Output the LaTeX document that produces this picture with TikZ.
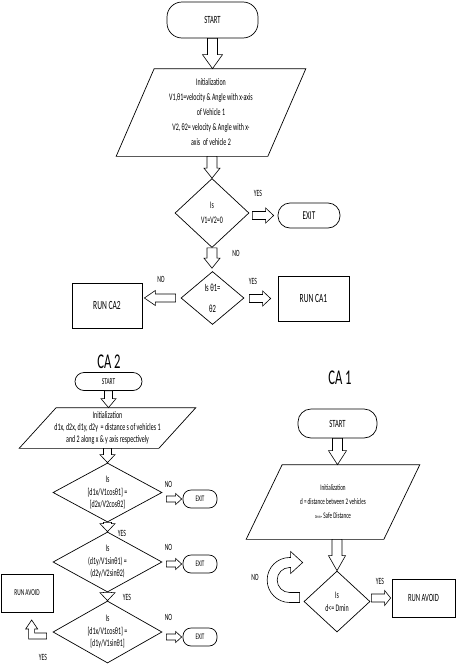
\documentclass[tikz,border=0pt]{standalone}
\usepackage{fontspec}
\setmainfont{Carlito}[FakeStretch=0.6]
\usetikzlibrary{shapes.geometric, calc}

%% frecce a blocco: da, a, mezzo fusto, mezza punta, lunghezza punta
\newcommand{\downblock}[5]{%
  \draw[blockarrow] let \p1=(#1), \p2=(#2) in
    (\x1-#3,\y1) -- (\x1-#3,\y2+#5) -- (\x1-#4,\y2+#5) -- (\x1,\y2)
    -- (\x1+#4,\y2+#5) -- (\x1+#3,\y2+#5) -- (\x1+#3,\y1) -- cycle;}
\newcommand{\rightblock}[5]{%
  \draw[blockarrow] let \p1=(#1), \p2=(#2) in
    (\x1,\y2-#3) -- (\x2-#5,\y2-#3) -- (\x2-#5,\y2-#4) -- (\x2,\y2)
    -- (\x2-#5,\y2+#4) -- (\x2-#5,\y2+#3) -- (\x1,\y2+#3) -- cycle;}
\newcommand{\leftblock}[5]{%
  \draw[blockarrow] let \p1=(#1), \p2=(#2) in
    (\x1,\y2-#3) -- (\x2+#5,\y2-#3) -- (\x2+#5,\y2-#4) -- (\x2,\y2)
    -- (\x2+#5,\y2+#4) -- (\x2+#5,\y2+#3) -- (\x1,\y2+#3) -- cycle;}
%% parallelogramma attorno a un nodo: nodo, mezza inclinazione
\newcommand{\parallelo}[2]{%
  \draw ($(#1.south west)+(-#2,0)$) -- ($(#1.north west)+(#2,0)$)
    -- ($(#1.north east)+(#2,0)$) -- ($(#1.south east)+(-#2,0)$) -- cycle;}

\begin{document}
\begin{tikzpicture}[x=1pt, y=-1pt, line width=0.7pt,
  term/.style={draw, rectangle, rounded corners=#1, inner sep=0pt},
  term/.default=12pt,
  io/.style={rectangle, inner sep=0pt, align=center},
  test/.style={draw, diamond, inner sep=0pt, align=center},
  proc/.style={draw, rectangle, inner sep=0pt},
  lbl/.style={inner sep=0pt, font=\fontsize{9.5}{11}\selectfont},
  title/.style={inner sep=0pt, font=\fontsize{21}{24}\selectfont},
  blockarrow/.style={draw, fill=white, line width=0.6pt}]

\useasboundingbox (0,0) rectangle (456,664);

%% === FLUSSO PRINCIPALE ===
\node[term=15pt, minimum width=91pt, minimum height=36pt, font=\fontsize{11}{13}\selectfont]
  (start) at (212.5,20) {START};
\node[io, minimum width=151pt, minimum height=87pt, font=\fontsize{10}{15}\selectfont]
  (init) at (211,112.5)
  {Initialization\\V1,θ1=velocity \& Angle with x-axis\\of Vehicle 1\\
   V2, θ2= velocity \& Angle with x-\\axis \ of vehicle 2};
\parallelo{init}{19}
\node[test, aspect=1.07, minimum width=74pt, minimum height=69pt,
  font=\fontsize{10}{15}\selectfont] (isstop) at (212,213) {Is\\V1=V2=0};
\node[term=12pt, minimum width=62pt, minimum height=25pt, font=\fontsize{12}{14}\selectfont]
  (exit) at (309,215.5) {EXIT};
\node[test, aspect=1.19, minimum width=63pt, minimum height=53pt,
  font=\fontsize{11}{21}\selectfont] (samedir) at (212.5,298) {Is θ1=\\θ2};
\node[proc, minimum width=70pt, minimum height=45pt, font=\fontsize{12.5}{14}\selectfont]
  (runca2) at (107,305.5) {RUN CA2};
\node[proc, minimum width=71pt, minimum height=45pt, font=\fontsize{12.5}{14}\selectfont]
  (runca1) at (313.5,298.5) {RUN CA1};

\downblock{start.south}{init.north}{5pt}{10pt}{14pt}
\downblock{init.south -| isstop.north}{isstop.north}{5pt}{8pt}{10pt}
\rightblock{$(isstop.east)+(3,0)$}{$(exit.west)+(-4,0)$}{4pt}{7.5pt}{8pt}
\downblock{isstop.south}{$(samedir.north)+(0,-3)$}{5pt}{8pt}{10pt}
\leftblock{$(samedir.west)+(-5,0)$}{$(runca2.east |- samedir.west)+(2,0)$}{4pt}{7.5pt}{11pt}
\rightblock{$(samedir.east)+(5,0)$}{$(runca1.west)+(-7,0)$}{4pt}{7.5pt}{8pt}

\node[lbl] (yes1) at (258,193) {YES};
\node[lbl] (no1)  at (236,253) {NO};
\node[lbl] (no2)  at (161,279) {NO};
\node[lbl] (yes2) at (253,281) {YES};

%% === CA 2 ===
\node[title] (titleca2) at (109,362) {CA 2};
\node[term=9pt, minimum width=67pt, minimum height=18pt, font=\fontsize{9}{10}\selectfont]
  (startb) at (108.5,381.5) {START};
\node[io, minimum width=139pt, minimum height=40pt, font=\fontsize{10}{12}\selectfont]
  (initb) at (107.5,428)
  {Initialization\\d1x, d2x, d1y, d2y \ = distance s of vehicles 1\\
   and 2 along x \& y axis respectively};
\parallelo{initb}{18.5}
\node[test, aspect=1.82, minimum width=109pt, minimum height=59pt,
  font=\fontsize{10}{12.5}\selectfont] (chkx) at (107.5,492.5)
  {Is\\{}[d1x/V1cosθ1] =\\{}[d2x/V2cosθ2]};
\node[test, aspect=1.82, minimum width=109pt, minimum height=60pt,
  font=\fontsize{10}{12.5}\selectfont] (chky) at (107.5,562)
  {Is\\(d1y/V1sinθ1) =\\(d2y/V2sinθ2)};
\node[test, aspect=1.82, minimum width=109pt, minimum height=62pt,
  font=\fontsize{10}{12.5}\selectfont] (chkxy) at (107.5,632)
  {Is\\{}[d1x/V1cosθ1] =\\{}[d1y/V1sinθ1]};
\node[proc, minimum width=52pt, minimum height=38pt, font=\fontsize{9}{10}\selectfont]
  (avoidl) at (27,593) {RUN AVOID};

\foreach \i/\ey in {1/499, 2/564, 3/637}
  \node[term=8pt, minimum width=34pt, minimum height=18pt, font=\fontsize{8.5}{10}\selectfont]
    (exitb\i) at (200,\ey) {EXIT};

\downblock{startb.south}{initb.north}{4pt}{7.5pt}{9pt}
\downblock{initb.south}{chkx.north}{4pt}{7.5pt}{8pt}
\downblock{chkx.south}{chky.north}{4pt}{7.5pt}{8pt}
\downblock{chky.south}{chkxy.north}{4pt}{7.5pt}{8pt}
\foreach \ck/\i in {chkx/1, chky/2, chkxy/3}
  {\rightblock{$(\ck.east)+(4,0)$}{$(exitb\i.west)+(-1,0)$}{3pt}{5.5pt}{6pt}}

%% freccia a L verso RUN AVOID
\begin{scope}[shift={(chkxy.west)}]
\draw[blockarrow] (-6,1) -- (-18,1) -- (-18,-3) -- (-15,-3) -- (-21,-12)
  -- (-27,-3) -- (-24,-3) -- (-24,7) -- (-6,7) -- cycle;
\end{scope}

\foreach \i/\ly in {1/484, 2/547, 3/617}
  \node[lbl] (nob\i) at (168.5,\ly) {NO};
\node[lbl] (yesb1) at (122,533) {YES};
\node[lbl] (yesb2) at (127,597) {YES};
\node[lbl] (yesb3) at (43,657)  {YES};

%% === CA 1 ===
\node[title] (titleca1) at (340,378) {CA 1};
\node[term=13pt, minimum width=79pt, minimum height=29pt, font=\fontsize{11}{13}\selectfont]
  (startc) at (337.5,423.5) {START};
\node[io, minimum width=137pt, minimum height=74pt, font=\fontsize{8.5}{14}\selectfont]
  (initc) at (333,502)
  {Initialization\\d = distance between 2 vehicles\\
   {\fontsize{4.5}{5}\selectfont Dmin=} Safe Distance};
\parallelo{initc}{18}
\node[test, aspect=1.08, minimum width=66pt, minimum height=61pt,
  font=\fontsize{10}{13}\selectfont] (dmin) at (337,601.5) {Is\\d<= Dmin};
\node[proc, minimum width=63pt, minimum height=38pt, font=\fontsize{11}{13}\selectfont]
  (avoidr) at (423.5,598) {RUN AVOID};

\downblock{startc.south}{initc.north}{5pt}{9pt}{14pt}
\downblock{initc.south -| dmin.north}{dmin.north}{5pt}{8.5pt}{15pt}
\rightblock{$(dmin.east)+(1,0)$}{$(avoidr.west)+(-1,0)$}{4pt}{7.5pt}{6pt}

%% freccia a C (ritorno NO)
\begin{scope}[shift={(dmin.west)}]
\draw[blockarrow] (-4,1) -- (-14,1) arc[start angle=270, end angle=90, radius=22.5pt]
  -- (-13,-44) -- (-13,-50) -- (-1,-39) -- (-13,-28) -- (-13,-34) -- (-14,-34)
  arc[start angle=90, end angle=270, radius=12.5pt] -- (-4,-9) -- cycle;
\end{scope}

\node[lbl] (noc)  at (255,577) {NO};
\node[lbl] (yesc) at (380,581) {YES};

\end{tikzpicture}
\end{document}
